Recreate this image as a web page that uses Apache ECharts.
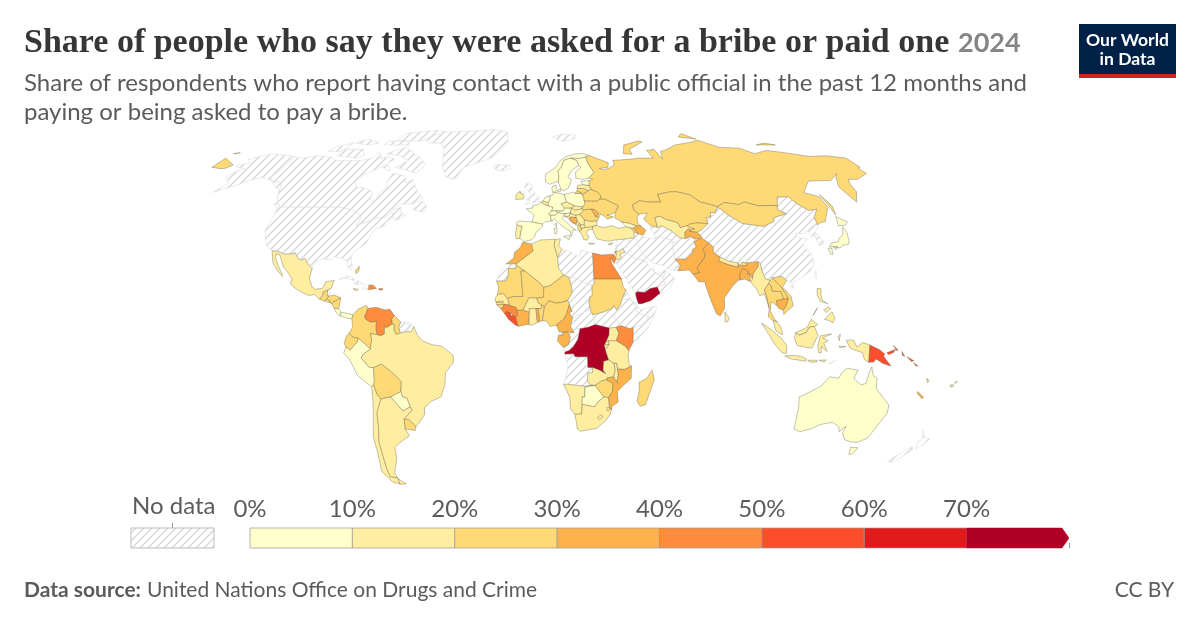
<!DOCTYPE html>
<html><head><meta charset="utf-8">
<style>html,body{margin:0;padding:0;background:#fff}#c{width:1200px;height:627px}</style>
<script src="https://cdn.jsdelivr.net/npm/echarts@6/dist/echarts.min.js"></script>
</head><body><div id="c"></div>
<script>
// ---------- chart values (share of respondents, %) ----------
const countries = ["Mexico","Guatemala","Honduras","El Salvador","Nicaragua","Costa Rica","Panama","Dominican Republic","Jamaica","Puerto Rico","Bahamas","Venezuela","Colombia","Ecuador","Peru","Bolivia","Brazil","Paraguay","Uruguay","Chile","Argentina","Guyana",
"Morocco","Algeria","Tunisia","Egypt","Sudan","Mauritania","Mali","Niger","Nigeria","Cameroon","Benin","Togo","Ghana","Ivory Coast","Liberia","Sierra Leone","Guinea","Senegal","Gambia","Guinea-Bissau","Burkina Faso","Kenya","Uganda","Rwanda","Burundi","Tanzania","DR Congo","Gabon","Zambia","Malawi","Mozambique","Zimbabwe","Botswana","Namibia","South Africa","Lesotho","Eswatini","Madagascar",
"Yemen","Jordan","Palestine","Turkey","Cyprus","Russia","Ukraine","Belarus","Moldova","Romania","Bulgaria","Greece","Albania","North Macedonia","Serbia","Montenegro","Bosnia","Croatia","Slovenia","Hungary","Slovakia","Czechia","Poland","Germany","France","Spain","Portugal","Italy","Ireland","Norway","Sweden","Finland","Denmark","Netherlands","Belgium","Switzerland","Austria","Estonia","Latvia","Lithuania","Georgia","Armenia","Azerbaijan",
"Kazakhstan","Kyrgyzstan","Uzbekistan","Tajikistan","Mongolia","Pakistan","India","Nepal","Bangladesh","Bhutan","Sri Lanka","Myanmar","Thailand","Laos","Vietnam","Cambodia","Malaysia","Indonesia","Philippines","Japan","Australia","Papua New Guinea","Solomon Islands","New Caledonia","Vanuatu","Fiji"];
const values = [14,24,23,12,22,8,9,45,14,42,21,45,25,26,7,26,15,8,26,15,16,24,
36,14,15,45,25,22,23,25,28,37,24,33,14,35,55,52,44,13,21,22,18,43,17,12,14,15,75,35,15,18,36,26,6,15,15,14,15,25,
75,14,44,18,12,25,23,24,36,22,15,18,22,15,12,15,31,14,8,17,17,14,7,4,6,5,15,6,15,4,4,3,8,5,12,5,8,7,17,21,8,21,34,
24,26,14,35,25,36,36,15,34,24,15,14,24,21,21,38,14,14,12,7,5,55,55,35,25,12];
const binEdges = [0,10,20,30,40,50,60,70,80];
const binColors = ["#ffffcc","#ffeda0","#fed976","#feb24c","#fd8d3c","#fc4e2a","#e31a1c","#b10026"];
const tickLabels = ["0%","10%","20%","30%","40%","50%","60%","70%"];

// ---------- geography: rough country outlines as lon,lat rings ----------
const shapes = {
"Canada":[[-141,69.6,-135,69,-128,70,-120,69.5,-115,68,-108,68,-100,68,-95,69,-94,72,-90,69,-85,69.5,-81.5,68.5,-85,66,-87,64.5,-93,62,-94.5,59,-92.5,57,-88,56.5,-82.5,55,-82,52.5,-80,51.3,-79,52,-79,54.5,-76.5,56.5,-78,59,-77.5,62.4,-73,62,-69.5,61,-68,58.5,-65,60,-62,57,-60,55,-56,52.5,-60,50.2,-66,50.2,-69,48,-65,49,-64.8,47,-61.5,45.8,-64,44.5,-66,44,-67,45,-69,47.3,-71,45,-75,45,-79,43.3,-83,42,-82.5,45.2,-84.5,46.5,-88.5,48,-95,49,-123,49,-127,51,-130,55,-133,59,-137,59,-141,60],[-62,66,-65,62.5,-72,64,-78,65,-73,68,-80,70,-89,71,-80,74,-72,71,-67,69],[-117,70,-105,69,-101,70,-105,73,-117,73],[-90,77,-75,77,-62,82,-72,83,-90,81],[-125,72,-118,72,-116,76,-124,74],[-95,75,-80,75,-82,77,-95,77],[-59,48,-53,47,-53,49.5,-56,51.5],[-128,50.7,-125,50,-123.5,48.5,-125,48.8],[-115,76,-105,75,-100,76,-110,78],[-85,65,-81,63.5,-80,64,-83,66]],
"United States":[[-123,49,-95,49,-88.5,48,-84.5,46.5,-82.5,45.2,-83,42,-79,43.3,-75,45,-71,45,-69,47.3,-67,45,-70,43.5,-70.5,41.7,-74,40.6,-75.5,38,-76,35.5,-78,34,-81,32,-81.3,30,-80,26.8,-80.5,25.2,-82,26.5,-83,29,-85,29.7,-89,30.3,-90,29.2,-94,29.6,-97.2,27.8,-97.3,25.9,-99.5,27.5,-101.5,29.8,-103,29,-104.5,29.7,-106.5,31.8,-108.2,31.4,-111,31.3,-114.8,32.5,-117.1,32.5,-120.5,34.5,-122.5,37.5,-124.2,40.3,-124,46.2,-124.7,48.4],[-141,69.6,-141,60,-137,59,-133,59,-130,55,-132,56,-136,58,-140,59.8,-146,60.8,-151,59.5,-154,58,-158,56.5,-163,54.8,-160,58.5,-165,60.5,-164,63,-161,64.5,-166,65,-168,65.6,-162,67,-166,68.5,-157,71,-148,70.3]],
"Greenland":[[-73,78,-68,80,-62,82,-45,82.5,-30,83.5,-20,82,-18,76,-22,72,-26,69,-33,67,-40,65,-43,60,-48,61,-52,65,-54,69,-56,73,-60,76,-68,76]],
"Iceland":[[-24,65.5,-22,64,-18,63.4,-14,64.5,-15,66,-20,66,-22,66.3]],
"Svalbard":[[11,79,17,76.8,25,78,27,80,18,80.5]],
"Mexico":[[-117.1,32.5,-114.8,32.5,-111,31.3,-108.2,31.4,-106.5,31.8,-104.5,29.7,-103,29,-101.5,29.8,-99.5,27.5,-97.3,25.9,-97.8,22.3,-96,19,-94.5,18.2,-91.5,18.6,-90.5,21,-87,21.5,-87.7,18.6,-88.3,18.4,-89.1,17.9,-91,17.2,-91,16,-92.2,14.5,-94.5,16.2,-97,15.9,-100,17,-104,19,-105.6,20.5,-105.2,22,-108,25,-109.5,26,-111,28,-113,31,-114.7,31.5,-114.5,30,-112,26.5,-110,24,-109.5,23,-112,25,-115,28,-116,30.5]],
"Guatemala":[[-92.2,14.5,-91,16,-91,17.2,-89.1,17.9,-89.2,15.9,-88.3,15.7,-89.3,14.4,-90,13.7]],
"Belize":[[-89.1,17.9,-88.3,18.4,-88.2,16.2,-89.2,15.9]],
"El Salvador":[[-90,13.7,-89.3,14.4,-87.8,13.9,-87.8,13.2]],
"Honduras":[[-88.3,15.7,-86,16,-83.2,15,-85,14,-87,13,-87.8,13.2,-87.8,13.9,-89.3,14.4]],
"Nicaragua":[[-87,13,-85,14,-83.2,15,-83.7,11,-85.7,11.1]],
"Costa Rica":[[-85.7,11.1,-83.7,11,-82.6,9.6,-83,8.2,-85,9.8]],
"Panama":[[-83,8.2,-82.6,9.6,-80,9.2,-77.4,8.7,-77.9,7.2,-80,7.4,-81,7.8]],
"Cuba":[[-85,21.9,-81,23.1,-75,20.7,-74.2,20.2,-77.7,19.9,-78.5,21.5,-82,22.3]],
"Haiti":[[-74.4,18.4,-71.7,18,-71.7,19.8,-73,19.9]],
"Dominican Republic":[[-71.7,18,-68.4,18.5,-69.8,19.7,-71.7,19.8]],
"Jamaica":[[-78.3,18.5,-76.2,18.2,-76.4,17.8,-78,17.9]],
"Puerto Rico":[[-67.2,18.6,-65.6,18.4,-65.8,17.9,-67.2,17.9]],
"Bahamas":[[-78.3,25,-77,26.8,-76.8,25,-77.8,24]],
"Colombia":[[-77.4,8.7,-75.6,10.7,-72,12.2,-71.3,11,-72.5,8,-72,7,-70,6,-67.5,6.2,-67.5,3,-67,1.2,-69.8,1.7,-69.4,-1,-70,-4.2,-72,-2.4,-75,-0.1,-77.5,0.4,-79,1.7,-77.5,4,-77.9,7.2]],
"Venezuela":[[-71.3,11,-68,11.5,-64,10.5,-62,10.7,-60,8.5,-61,7,-60.7,5.2,-62.7,4,-64,4,-64,1.5,-65.5,0.8,-67,1.2,-67.5,3,-67.5,6.2,-70,6,-72,7,-72.5,8]],
"Guyana":[[-60,8.5,-57.2,6,-58,4,-57.3,1.9,-59,1.3,-60,3,-60,5.1,-60.7,5.2,-61,7]],
"Suriname":[[-57.2,6,-54,5.9,-54,3,-55,2.3,-57.3,1.9,-58,4]],
"French Guiana":[[-54,5.9,-52,4.7,-51.6,4.2,-52.7,2.3,-54,2.3,-54,3]],
"Ecuador":[[-79,1.7,-77.5,0.4,-75,-0.1,-75.4,-1.5,-78.5,-4.5,-80.3,-3.4,-81,-2,-80,0.8]],
"Peru":[[-80.3,-3.4,-78.5,-4.5,-75.4,-1.5,-75,-0.1,-72,-2.4,-70,-4.2,-73,-6,-74,-7.5,-70.6,-11,-69,-11,-69,-16,-69.5,-17.5,-70.4,-18.3,-76,-14,-79,-8,-81.3,-5.5]],
"Bolivia":[[-69,-11,-65.4,-9.7,-60.4,-13.5,-57.5,-16.3,-58,-20,-62.7,-22,-67,-22.8,-68.5,-21,-69.5,-17.5,-69,-16]],
"Chile":[[-70.4,-18.3,-69.5,-17.5,-68.5,-21,-67,-22.8,-69.5,-28,-70,-33,-71.5,-39,-72,-48,-72,-52,-68.6,-52.5,-68.6,-55,-72,-54,-75,-50,-73.5,-42,-73.5,-37,-71.5,-30,-70.5,-24]],
"Argentina":[[-67,-22.8,-62.7,-22,-58,-27.2,-54.6,-25.6,-54,-27,-58,-30.2,-58.3,-34,-57,-36.5,-62,-39,-65,-41,-65.5,-45,-69,-50.5,-68.6,-52.5,-72,-52,-72,-48,-71.5,-39,-70,-33,-69.5,-28],[-68.6,-52.8,-65.5,-54.8,-68.6,-55]],
"Paraguay":[[-62.7,-22,-58,-20,-57.5,-22,-55.7,-22.4,-54.6,-25.6,-58,-27.2]],
"Uruguay":[[-58,-30.2,-56,-30.3,-53.3,-33,-53.9,-34.5,-58.3,-34]],
"Brazil":[[-60,5.1,-60,3,-59,1.3,-57.3,1.9,-55,2.3,-54,2.3,-52.7,2.3,-51.6,4.2,-50,1,-48,-1,-44,-2.5,-40,-3,-37,-5,-35,-6.5,-35,-9,-38.5,-13,-39,-17.5,-41,-22,-45,-23.5,-48.5,-26,-48.7,-28.5,-52,-32,-53.3,-33,-56,-30.3,-58,-30.2,-54,-27,-54.6,-25.6,-55.7,-22.4,-57.5,-22,-58,-20,-57.5,-16.3,-60.4,-13.5,-65.4,-9.7,-69,-11,-70.6,-11,-74,-7.5,-73,-6,-70,-4.2,-69.4,-1,-69.8,1.7,-67,1.2,-65.5,0.8,-64,1.5,-64,4,-62.7,4,-60.7,5.2]],
"United Kingdom":[[-5.5,50,1.3,51.2,1.5,52.8,-0.2,54,-2,56,-2,57.7,-5,58.6,-6,56.5,-3.5,54.8,-3,53.3,-5,52,-3,51.4],[-8,54.5,-6,55.2,-5.5,54.3,-6.5,54]],
"Ireland":[[-10,52,-6.2,52.2,-6,53.5,-6.5,54,-8,54.5,-8,55.3,-10,54]],
"France":[[2.5,51,4.2,50,6,49.5,8.2,49,7.5,47.6,6,46.3,7,45.9,7,44,7.5,43.8,4,43.4,3,42.5,-1.8,43.4,-1,46,-4.7,48.4,-1.6,48.7,-1.6,49.7,1,50],[8.6,42.5,9.5,43,9.4,41.4]],
"Spain":[[-1.8,43.4,3,42.5,3.2,41.8,0,39.5,-0.5,38,-2,36.7,-5.5,36,-6.3,36.7,-7.4,37.2,-7,39.5,-6.5,41.7,-8.2,42,-8.8,42.5,-9.2,43.2,-8,43.7]],
"Portugal":[[-8.8,42.5,-8.2,42,-6.5,41.7,-7,39.5,-7.4,37.2,-8.9,37,-9.4,38.7]],
"Belgium":[[2.5,51,3.4,51.4,6,50.8,6.2,49.7,6,49.5,4.2,50]],
"Netherlands":[[3.4,51.4,4.7,53,7,53.4,7,52,6,50.8]],
"Germany":[[7,53.4,8.6,53.9,8.7,55,10,54.7,14.2,53.9,14.7,52,15,51,12.2,50.3,13.8,48.7,13,47.6,7.5,47.6,8.2,49,6,49.5,6.2,49.7,6,50.8,7,52]],
"Denmark":[[8.2,55,8.2,57,10.5,57.7,10.3,56,10,54.7,8.7,55],[11,55.7,12.5,56,12.3,55,11,55]],
"Switzerland":[[6,46.3,7.5,47.6,9.6,47.5,10.4,46.9,9,45.9,7,45.9]],
"Austria":[[9.6,47.5,13,47.6,13.8,48.7,17,48.7,16.5,46.8,13.7,46.5,10.4,46.9]],
"Italy":[[7,45.9,9,45.9,10.4,46.9,13.7,46.5,12.4,44.8,16,41.8,18.5,40.2,17,40.5,16.5,39,16,38,15.6,40,12.5,41.5,10.5,43,8.8,44.4,7.5,43.8,7,44],[12.5,38,15.5,38.2,15,36.7],[8.3,41,9.7,41,9.5,39,8.5,39]],
"Poland":[[14.2,53.9,18.5,54.8,19.8,54.4,23,54.4,23.7,52.6,23.7,51.5,24,50.5,22.7,49.1,19,49.4,18.8,49.5,15,51,14.7,52]],
"Czechia":[[12.2,50.3,15,51,18.8,49.5,17,48.7,13.8,48.7]],
"Slovakia":[[17,48.7,18.8,49.5,19,49.4,22.7,49.1,22,48.4,18.7,47.8]],
"Hungary":[[16.5,46.8,17,48.7,18.7,47.8,22,48.4,22.9,48,21,46.2,18.8,45.9,16.3,46.6]],
"Slovenia":[[13.7,46.5,16.5,46.8,16.3,46.6,15.5,45.5,13.6,45.5]],
"Croatia":[[13.6,45.5,15.5,45.5,16.3,46.6,18.8,45.9,19,45,16,45.2,16,44,18.5,42.5,17,43,14.8,45]],
"Bosnia":[[16,45.2,19,45,19.3,43.5,18.5,42.5,16,44]],
"Serbia":[[19,45,18.8,45.9,21,46.2,22.7,44.2,22.4,42.3,20.5,42.2,20.3,42.8,19.3,43.5]],
"Montenegro":[[18.5,42.5,19.3,43.5,20.3,42.8,19.3,41.9]],
"Albania":[[19.3,41.9,20.3,42.8,20.5,42.2,20.9,40.9,20.9,40.3,20,39.7,19.4,40.4]],
"North Macedonia":[[20.5,42.2,22.4,42.3,23,41.3,20.9,40.9]],
"Greece":[[20,39.7,20.9,40.3,20.9,40.9,23,41.3,26.3,41.7,26,40.8,23.5,40.2,23,39,24,38,23,36.5,21.5,36.8,21,38.3],[23.6,35.5,26.3,35.2,24,35]],
"Bulgaria":[[22.4,42.3,22.7,44.2,25,43.7,28.6,43.8,28,42,26.3,41.7,23,41.3]],
"Romania":[[21,46.2,22.9,48,26.6,48.3,28.2,45.4,29.7,45.2,28.6,43.8,25,43.7,22.7,44.2]],
"Moldova":[[26.6,48.3,28,48.2,30,46.5,28.2,45.4]],
"Ukraine":[[23.7,51.5,30,51.4,31.7,52.2,34,52.2,40,49.6,38,47.1,35,46.2,33.5,46,36.5,45.3,33.5,44.4,32.5,45.4,30.7,46.4,29.7,45.2,28.2,45.4,30,46.5,28,48.2,26.6,48.3,22.9,48,22,48.4,22.7,49.1,24,50.5]],
"Belarus":[[23.7,52.6,23.7,51.5,30,51.4,31.7,52.2,32.5,53.4,30.8,55,28,56,26.5,55.5,23.5,54,23,54.4]],
"Lithuania":[[21,55.3,21,56.4,24.5,56.3,26.5,55.5,23.5,54,23,54.4]],
"Latvia":[[21,56.4,21.5,57.6,24.3,57.9,27.5,57.5,28,56,26.5,55.5,24.5,56.3]],
"Estonia":[[23.5,59.2,28,59.5,27.5,57.5,24.3,57.9]],
"Norway":[[5,59,7,58,10.5,59,11.7,59,12.2,61,12,63.5,14,65,16,68,20,69,25,68.8,29,69.5,31,70.2,28,71,24,71,18,69.8,14,68,11,65,5,62]],
"Sweden":[[11.7,59,12.7,56,14.3,55.4,16.5,56.5,18.8,59.8,17,61,20,64,24,65.8,23.5,68,20,69,16,68,14,65,12,63.5,12.2,61]],
"Finland":[[21,60.5,25,60,28,60.5,31.5,62.8,29.5,66.5,29,69.5,25,68.8,20,69,23.5,68,24,65.8,25,65,21.5,63,21.3,61]],
"Russia":[[28,60.5,31.5,62.8,29.5,66.5,29,69.5,31,70.2,41,67,40,65,35,64.5,37,64,40,64.5,44,66,44,68,54,68.5,60,69,68,69,67,72.5,72,73,73,68.5,75,72,80,73,87,75,100,76.5,105,77.5,113,74,125,73.5,130,71,140,72.5,152,71,160,69.7,170,70,180,69,180,65,178,64.5,179,62.5,170,60,165,60,163,58,162,55,157,51,155.7,57,160,61,163,62.5,155,59.5,143,59.3,135,54.7,141,53,141,49,135,43.5,132,43,130.7,42.3,131,45,135,48.3,131,47.7,127.5,50,125.6,53,120,53,117,49.6,113,49.7,108,49.5,102,51,98.5,50,92,50.8,87.8,49.2,85,50,80.5,51,77,53.8,71,55,68,55,61,54,61,51,55,51,51,51.5,47,50,47,48,49,46.3,47.5,45,47.5,42.5,48.6,41.8,46.5,41.8,43.5,42.8,40,43.4,37,45,38,47.1,40,49.6,34,52.2,31.7,52.2,32.5,53.4,30.8,55,28,56,27.5,57.5,28,59.5,30,60],[-180,65,-175,64.5,-172,64.5,-170,66,-175,67.5,-180,69],[-180,71,-177,71.5,-178,70.9],[52,71,57,70.7,57,73,68,76.5,66,77,55,75],[19.8,54.4,23,54.4,21,55.3,20,54.9],[142,54,143.5,49.5,142,46,142,50],[95,79,105,78,100,81],[138,75,150,75,145,76]],
"Kazakhstan":[[47,50,51,51.5,55,51,61,51,61,54,68,55,71,55,77,53.8,80.5,51,85,50,87.8,49.2,85.5,47,83,47,82.5,45.3,80,45,80,42.8,74.5,43,71,42.5,70,42,66.5,41.2,66,43,64.5,43.5,61,44.3,58.5,45.5,56,45,56,41.3,53,42,50.5,44.5,53,46.8,49,46.3,47,48]],
"Uzbekistan":[[56,45,58.5,45.5,61,44.3,64.5,43.5,66,43,66.5,41.2,70,42,71,41.2,73,40.8,71,40.2,70,40.8,68,39.5,67.5,37.2,65,37.5,62,40,58,42,56,41.3]],
"Turkmenistan":[[53,42,56,41.3,58,42,62,40,65,37.5,64,36,61,35.5,61,36.5,56,38,54,37.3,53.8,39,52.8,40]],
"Kyrgyzstan":[[70,42,71,42.5,74.5,43,80,42.8,76,40.4,73.7,39.5,70,39.8,71,40.2,73,40.8,71,41.2]],
"Tajikistan":[[68,39.5,70,40.8,71,40.2,70,39.8,73.7,39.5,75,38,74.9,37.3,71.5,37,70,38,68,37.2,67.5,37.2]],
"Afghanistan":[[61,35.5,64,36,65,37.5,67.5,37.2,68,37.2,70,38,71.5,37,74.9,37.3,71,36,71.5,34,69.5,33,69.3,31.8,66.5,30,66,29.4,61,29.5,60.8,31.5]],
"Pakistan":[[61,29.5,66,29.4,66.5,30,69.3,31.8,69.5,33,71.5,34,71,36,74.9,37.3,77.5,35.5,74,33,75,31.8,74,30,72,28,70,26,71,24.5,68,23.7,66.5,25.4,61.6,25.1,63,27.2]],
"India":[[77.5,35.5,79,34,78.5,32,81,30.2,80,28.8,84,27.4,88,26.5,88.2,28,89,27,92,27,92,28,97,28.5,97,27,94,24,93.3,22,92.4,24,91.5,24,92,25,89.8,26,88.3,24,88,21.7,87,21.5,84,19,80.3,15,80,11,78,8.2,76.5,9,74.5,14,73,19,72.6,21,70,21,69,22.5,68,23.7,71,24.5,70,26,72,28,74,30,75,31.8,74,33]],
"Nepal":[[80,28.8,81,30.2,84,28.8,88.2,28,88,26.5,84,27.4]],
"Bhutan":[[89,27,92,27,92,28,90,28.3]],
"Bangladesh":[[88.3,24,89.8,26,92,25,91.5,24,92.4,24,92.3,21,90,22,88,21.7]],
"Sri Lanka":[[80,9.7,81.8,7.5,81,6,80,6.2]],
"Iran":[[44.8,39.7,48,38.5,49,37.5,54,36.9,54,37.3,56,38,61,36.5,61,35.5,60.8,31.5,61,29.5,63,27.2,61.6,25.1,57.5,25.7,56,27,51,28,48.5,30,47.7,31,46,33.5,45.5,36,44.5,37.5]],
"Azerbaijan":[[46.5,41.8,48.6,41.8,50.3,40.3,48.9,38.5,46.5,38.9,46,39.5,45,41.2]],
"Armenia":[[43.6,41.1,45,41.2,46,39.5,46.5,38.9,44.8,39.7]],
"Georgia":[[40,43.4,43.5,42.8,46.5,41.8,45,41.2,43.6,41.1,41.6,41.5]],
"Turkey":[[26.3,41.7,28,42,31.5,41.2,35,42,38,41,41.6,41.5,43.6,41.1,44.8,39.7,44.5,37.5,42.3,37.2,38,36.8,36.1,36.6,35.5,36.6,32.5,36.1,30.5,36.4,27.5,37,26.3,39.3,26,40.8]],
"Cyprus":[[32.3,35,34.5,35.6,33.5,34.7]],
"Syria":[[36.1,36.6,38,36.8,42.3,37.2,41,34.5,38.8,33.4,36.8,32.4,35.9,33,36,34.6]],
"Lebanon":[[35.1,33.1,35.9,33,36.5,34.4,36,34.6]],
"Israel":[[35.1,33.1,35.9,33,35.5,32.4,34.9,32,35.5,31.4,35,29.5,34.3,31.3]],
"Palestine":[[35.5,32.6,34.9,32,35.5,31.2,35.7,31.5]],
"Jordan":[[35.5,32.4,36.8,32.4,38.8,33.4,39.3,32,37,31.3,37.5,30,36,29.2,35,29.5,35.5,31.4]],
"Iraq":[[42.3,37.2,44.5,37.5,45.5,36,46,33.5,47.7,31,48.5,30,47.7,29.4,46.5,29.1,44.7,29.2,39.3,32,38.8,33.4,41,34.5]],
"Saudi Arabia":[[36,29.2,37.5,30,37,31.3,39.3,32,44.7,29.2,46.5,29.1,48,28.5,50,26,51.3,24.4,55,22.7,55.5,20,52,19,49,18.5,46.5,17,43.3,17.3,42.5,16.5,41,19,39,21.5,37,25,35,28]],
"Yemen":[[43.3,17.3,46.5,17,49,18.5,52,19,53,16.7,49,14,45,12.8,43.5,12.8,42.8,15,42.5,16.5]],
"Oman":[[52,19,55.5,20,55,22.7,56.3,24.9,58.7,23.5,59.8,22.4,57.8,19,55,17,53,16.7]],
"UAE":[[51.3,24.4,54,24.2,56.3,25.8,56.3,24.9,55,22.7]],
"Qatar":[[50.8,24.8,51.6,25,51.2,26.2]],
"Kuwait":[[46.5,29.1,47.7,29.4,48.4,28.5,48,28.5]],
"China":[[73.7,39.5,76,40.4,80,42.8,80,45,82.5,45.3,83,47,85.5,47,87.8,49.2,91,46,96,42.8,105,41.7,111,43.5,112,45,119,46.5,116,48,117,49.6,120,53,125.6,53,127.5,50,131,47.7,135,48.3,131,45,130.7,42.3,128,42,124.4,40,121.5,39,118,39,119,37.3,122.5,37,119.3,35,121.8,31,121.5,28,119,25,114,22.3,110,20.5,108,21.6,106,23,102,22.5,101,21.5,99,22,98,25,98,28,97,28.5,92,28,90,28.3,88.2,28,84,28.8,81,30.2,78.5,32,79,34,77.5,35.5,74.9,37.3,75,38],[108.7,19.5,110.5,20,110,18.4]],
"Taiwan":[[120.2,23,121.5,25.2,121,22]],
"Mongolia":[[87.8,49.2,92,50.8,98.5,50,102,51,108,49.5,113,49.7,117,49.6,116,48,119,46.5,112,45,111,43.5,105,41.7,96,42.8,91,46]],
"North Korea":[[124.4,40,128,42,130.7,42.3,129.5,41,127.5,39.5,128.3,38.6,126.7,38,125,38]],
"South Korea":[[126.7,38,128.3,38.6,129.4,36,128.5,34.9,126.4,34.6]],
"Japan":[[130.9,34,132.5,35.5,136,36,137,37.3,139.5,38.5,141.5,41.4,142,39.5,140.8,36,139.8,35,137,34.6,135.5,33.6,132.5,34.2],[140,42,141.5,45.4,145.3,43.4,143,42],[130,33.5,131.7,33.5,131,31.2,130.2,31.3],[132.5,33.8,134.6,34.2,133.5,33]],
"Myanmar":[[92.3,21,93.3,22,94,24,97,27,97,28.5,98,28,98,25,99,22,101,21.5,100,20.3,97.8,18,98.5,15,99,11,98.5,13,97.5,16.5,95.5,15.8,94.3,18.5]],
"Thailand":[[97.8,18,100,20.3,101,19.5,101,17.5,104.8,17.4,105.5,14.5,102.5,14,102.5,12,101,13,100,13.5,99.3,10,101,7,102,6,100.3,6.5,98.3,8,99,11,98.5,15]],
"Laos":[[100,20.3,101,21.5,102,22.5,104.8,19.5,106.7,16.5,107.5,14.7,105.5,14.5,104.8,17.4,101,17.5,101,19.5]],
"Vietnam":[[102,22.5,106,23,108,21.6,105.7,19,108.8,15.5,109.3,12,106.8,10.3,105,8.7,104.9,10.4,106,11.7,107.5,14.7,106.7,16.5,104.8,19.5]],
"Cambodia":[[102.5,14,105.5,14.5,107.5,14.7,106,11.7,104.9,10.4,103,11,102.5,12]],
"Malaysia":[[100.3,6.5,102,6,103.4,4,104.2,1.4,103.4,1.4,101.3,2.8],[109.6,2,111.3,2.6,114.5,4,116.5,7,119,5,117.7,4.2,115.6,4.2,114,2,111,1]],
"Indonesia":[[109.6,2,111,1,114,2,115.6,4.2,117.7,4.2,119,1,116.5,-3.8,114,-3.5,110.3,-2.8,109,0],[95.3,5.6,98,4,103.5,0,106,-3,105.8,-5.8,104,-5.5,101,-2.5,98.5,1],[105.2,-6.7,108.5,-6.5,112,-6.8,114.5,-7.8,114.3,-8.7,108,-7.8],[119.5,-5.5,119,-3,120,0.8,124.8,1.5,121,0,123.3,-1,121.5,-2,123,-5,121.5,-4,120.5,-3,120.5,-5.6],[131,-0.8,134,-0.8,135.5,-3.3,138,-1.7,141,-2.6,141,-9.1,139,-8,138,-5.5,133,-4,132,-2.8],[115,-8.3,119,-8.3,119,-9,116,-9],[119.8,-8.3,123,-8.2,122,-9],[127.5,0.5,128.5,1.5,128,-1],[128,-3,130.8,-3.2,128.3,-3.6]],
"Timor-Leste":[[124,-9.5,127,-8.4,125,-9.4]],
"Philippines":[[120.5,18.5,122.2,18.4,121.6,16,122,14,124,12.8,121,13.7,120,16],[122,7,125.5,9.8,126.5,7.5,125.5,5.7,124,6.5],[122,10.5,124,11.5,125,11,123,9.5],[117.2,8.4,119.5,11.3,118,9.2]],
"Papua New Guinea":[[141,-2.6,145,-4.3,147.5,-6,147,-6.7,150.5,-10.5,147,-9.5,144,-7.8,143,-9,141,-9.1],[148.3,-5.5,152,-4.2,151,-5.5,149,-6.2],[150.8,-2.7,153,-4.5,152.5,-4.7],[154.6,-5,156,-6.8,155,-6.5]],
"Solomon Islands":[[157,-7,160,-8.5,159,-8.8],[160,-9.2,162,-10.5,161,-10.4]],
"New Caledonia":[[164,-20,167.2,-22.2,166.5,-22.6,164,-20.6]],
"Vanuatu":[[166.6,-15,167.8,-16,167.2,-16.6]],
"Fiji":[[177.3,-17.5,178.7,-17.5,178.5,-18.2,177.3,-18.2],[179,-16.5,180,-16.2,179,-17]],
"Australia":[[113.5,-22,114.2,-26,115,-34,118,-35,123,-33.8,126,-32.3,131,-31.5,134.5,-33,135.7,-35,137.8,-33,137.5,-35.5,140,-38,143.5,-38.8,146.3,-39,150,-37.4,151,-34,153.6,-28,153,-25,149.5,-22,146,-19,145.3,-15,143.5,-14,142.5,-10.8,141.7,-13,141,-17,139,-17.5,135.5,-15,136.8,-12,132,-11.3,130,-13,129,-15,125,-14.5,122,-18,117,-20.5],[144.7,-40.8,148.3,-41,147.5,-43.3,146,-43.5]],
"New Zealand":[[172.8,-34.5,175.5,-37,178.5,-37.7,176.8,-40,175.2,-41.5,174,-39.3,175,-37.5],[172.7,-40.6,174.3,-41.7,171,-45,169,-46.6,166.5,-46,170,-43]],
"Madagascar":[[49.3,-12,50.5,-15.5,47.5,-24.8,45.2,-25.5,43.7,-23.5,44.4,-19.5,44,-16.5,47.3,-15]],
"Morocco":[[-5.9,35.8,-2,35.1,-1.3,32.5,-5,30,-8.7,27.7,-13,27.7,-9.8,29.8,-9.5,32,-7,33.8]],
"Western Sahara":[[-13,27.7,-8.7,27.7,-8.7,26,-12,26,-12,23.4,-13,21.3,-17,21.3,-16,24,-14.5,26.2]],
"Mauritania":[[-17,21.3,-13,21.3,-12,23.4,-12,26,-8.7,26,-8.7,27.3,-4.8,25,-6.5,25,-5.6,15.5,-9.3,15.5,-12.2,14.8,-14,16.6,-16.5,16.2,-16,19]],
"Algeria":[[-2,35.1,2,36.6,8.6,36.9,8.2,34.5,9.5,30.2,9.8,26,12,23.5,6,19.5,3.3,19,1,21,-4.8,25,-8.7,27.3,-8.7,27.7,-5,30,-1.3,32.5]],
"Tunisia":[[8.6,36.9,11,37,10.2,34.5,11.5,33,9.5,30.2,8.2,34.5]],
"Libya":[[11.5,33,15,32.3,19,30.3,20,32.8,25,31.7,25,20,24,19.5,15,23,14.2,22.6,12,23.5,9.8,26,9.5,30.2]],
"Egypt":[[25,31.7,29,31,34.3,31.3,35,29.5,34.2,27.8,32.7,30,33,28,36.9,22,25,22]],
"Sudan":[[24,19.5,25,20,25,22,36.9,22,37.4,19,38.5,18,36.5,14.3,36,12.7,34.2,10.5,33,12.2,32.4,11,28,9.5,24,8.7,23,10.8,22.5,13.5,23,15.5,24,15.7]],
"South Sudan":[[24,8.7,28,9.5,32.4,11,33,12.2,34.2,10.5,33,7.9,35.9,4.6,33.9,4,31,3.7,28,4.4,25,5]],
"Chad":[[14.2,22.6,15,23,24,19.5,24,15.7,23,15.5,22.5,13.5,23,10.8,19,9,15.5,7.5,14,9.5,15.3,10,14.2,12.5,13.5,14,15.5,16.9,15,20]],
"Niger":[[3.3,19,6,19.5,12,23.5,14.2,22.6,15,20,15.5,16.9,13.5,14,10.7,13.3,8.5,13,5.5,13.9,3.6,11.7,2.4,12.3,1,13,0.2,14.9,3.2,15.3]],
"Mali":[[-12.2,14.8,-9.3,15.5,-5.6,15.5,-6.5,25,-4.8,25,1,21,3.3,19,3.2,15.3,0.2,14.9,-3,15,-5.5,10.4,-8,10.3,-8.5,11.4,-11.4,12.2]],
"Senegal":[[-16.5,16.2,-14,16.6,-12.2,14.8,-11.4,12.4,-13.7,12.6,-16.7,12.4,-17.5,14.7]],
"Gambia":[[-16.8,13.6,-14,13.8,-14,13.2,-16.8,13.2]],
"Guinea-Bissau":[[-16.7,12.4,-13.7,12.6,-13.7,11.7,-15,11]],
"Guinea":[[-13.7,12.6,-11.4,12.2,-8.5,11.4,-8,10.3,-7.8,8.5,-8.5,7.6,-9.5,8.5,-10.7,9.3,-12.5,9.9,-13.2,9,-15,11,-13.7,11.7]],
"Sierra Leone":[[-13.2,9,-12.5,9.9,-10.7,9.3,-10.7,8.3,-11.5,6.9]],
"Liberia":[[-11.5,6.9,-10.7,8.3,-9.5,8.5,-8.5,7.6,-7.5,4.4,-9,5]],
"Ivory Coast":[[-8.5,7.6,-7.8,8.5,-8,10.3,-5.5,10.4,-2.8,9.7,-3,5.1,-7.5,4.4]],
"Burkina Faso":[[-5.5,10.4,-3,15,0.2,14.9,1,13,2.4,12.3,2.2,11,-2.8,11,-2.8,9.7]],
"Ghana":[[-2.8,9.7,-2.8,11,0,11,0.5,6.2,1.2,6,-2,4.7,-3,5.1]],
"Togo":[[0,11,0.9,11,1.6,6.2,1.2,6,0.5,6.2]],
"Benin":[[0.9,11,2.2,11,2.4,12.3,3.6,11.7,2.7,6.4,1.6,6.2]],
"Nigeria":[[2.7,6.4,3.6,11.7,5.5,13.9,8.5,13,10.7,13.3,13.5,14,14.2,12.5,13,9,11.7,7,8.6,4.8,6,4.3,4.5,6.3]],
"Cameroon":[[8.6,4.8,11.7,7,13,9,14.2,12.5,15.3,10,14,9.5,15.5,7.5,14.5,4.5,16,2,13.3,2.2,9.8,2.3]],
"Central African Republic":[[15.5,7.5,19,9,23,10.8,24,8.7,25,5,22,4,18.6,3.5,16.5,3.5,16,2,14.5,4.5]],
"Equatorial Guinea":[[9.8,2.3,11.3,2.2,11.3,1,9.5,1]],
"Gabon":[[9.5,1,11.3,1,11.3,2.2,13.3,2.2,14.5,0.5,13.7,-2.5,11.5,-3.5,9,-1]],
"Congo":[[13.3,2.2,16,2,16.5,3.5,18.6,3.5,17.7,-0.5,15.8,-3.2,14,-4.7,12.2,-4.8,11.5,-3.5,13.7,-2.5,14.5,0.5]],
"DR Congo":[[18.6,3.5,22,4,25,5,28,4.4,31,3.7,30.8,1,29.6,-1.4,28.9,-2.6,29.3,-4.4,30.8,-8.2,28.7,-8.7,28.5,-12,29.8,-13.4,27,-12,24,-11,22,-11,21.8,-7,16.5,-7,16,-5.9,12.2,-6,12.2,-5.2,14,-4.7,15.8,-3.2,17.7,-0.5]],
"Angola":[[12.2,-6,16,-5.9,16.5,-7,21.8,-7,22,-11,24,-11,24,-13,22,-13,22,-16.2,23.4,-17.6,21,-18,13.5,-17.3,11.8,-17.3,13.5,-12,13,-9]],
"Zambia":[[24,-11,27,-12,29.8,-13.4,28.5,-12,28.7,-8.7,30.8,-8.2,33,-9.4,33.7,-12,33,-14.5,30.3,-14.9,30.3,-15.6,28,-16,25.3,-17.7,23.4,-17.6,22,-16.2,22,-13,24,-13]],
"Namibia":[[11.8,-17.3,13.5,-17.3,21,-18,23.4,-17.6,25.3,-17.7,21,-18.3,21,-22,20,-22,20,-28.4,17,-28.5,15,-26.5,14.5,-22]],
"Botswana":[[21,-18.3,25.3,-17.7,29.3,-22,27,-23.7,25.5,-25.7,23,-25.3,20,-24.8,20,-22,21,-22]],
"Zimbabwe":[[25.3,-17.7,28,-16,30.3,-15.6,33,-17,32.8,-20,31.3,-22.3,29.3,-22]],
"South Africa":[[17,-28.5,20,-28.4,20,-24.8,23,-25.3,25.5,-25.7,27,-23.7,29.3,-22,31.3,-22.3,32,-25.9,32.9,-26.8,32.5,-28.5,30.5,-31,27,-33.8,25,-34,20,-34.8,18.4,-34,18,-32]],
"Lesotho":[[27,-29.7,28.5,-28.6,29.4,-29.5,28,-30.6]],
"Eswatini":[[30.8,-26,32,-25.9,32,-27,31,-27.2]],
"Mozambique":[[32.9,-26.8,32,-25.9,31.3,-22.3,32.8,-20,33,-17,30.3,-15.6,30.3,-14.9,33,-14.5,34.5,-16,35,-14,34.6,-11.5,37.5,-11.7,40.5,-10.5,40.6,-15,37,-18,35,-20,35.5,-24,33,-25.5]],
"Malawi":[[33,-9.4,34.3,-9.5,34.6,-11.5,35,-14,34.5,-16,35,-17,33,-14.5,33.7,-12]],
"Tanzania":[[33.9,-1,37.7,-3,39.2,-4.7,39,-7,39.5,-10,40.5,-10.5,37.5,-11.7,34.6,-11.5,34.3,-9.5,33,-9.4,30.8,-8.2,29.3,-4.4,30.8,-2.4,30.5,-1]],
"Rwanda":[[29.6,-1.4,30.5,-1,30.8,-2.4,28.9,-2.6]],
"Burundi":[[28.9,-2.6,30.8,-2.4,29.3,-4.4]],
"Uganda":[[31,3.7,33.9,4,35,1.7,33.9,-1,30.5,-1,29.6,-1.4,30.8,1]],
"Kenya":[[33.9,4,35.9,4.6,39.5,3.5,41,3.9,41,-1.6,39.2,-4.7,37.7,-3,33.9,-1,35,1.7]],
"Eritrea":[[38.5,18,39.5,15.5,43,12.5,41.5,13,40,14.5,36.5,14.3]],
"Ethiopia":[[36.5,14.3,40,14.5,41.5,13,42.5,11,43,9.5,44,9,47.9,8,45,5,42,4,41,3.9,39.5,3.5,35.9,4.6,33,7.9,34.2,10.5,36,12.7]],
"Djibouti":[[41.5,13,43,12.5,43.2,11.5,42.5,11]],
"Somalia":[[42.5,11,43.2,11.5,44.5,10.5,51,12,51,10.4,47.5,4,43,-0.5,41,-1.6,41,3.9,42,4,45,5,47.9,8,44,9,43,9.5]]
};

// ---------- Robinson projection ----------
const PLEN=[1,.9986,.9954,.99,.9822,.973,.96,.9427,.9216,.8962,.8679,.835,.7986,.7597,.7186,.6732,.6213,.5722,.5322];
const PDFE=[0,.062,.124,.186,.248,.31,.372,.434,.4958,.5571,.6176,.6769,.7346,.7903,.8435,.8936,.9394,.9761,1];
const DEG_PX=2.37, LAT_PX=216, CX=536, CY=338;
function tab(t,a){const f=Math.min(Math.abs(a),89.999)/5,i=Math.floor(f);return t[i]+(t[i+1]-t[i])*(f-i);}
const robinson={
 project(p){return [p[0]*DEG_PX*tab(PLEN,p[1]),-Math.sign(p[1])*LAT_PX*tab(PDFE,p[1])];},
 unproject(q){let lo=0,hi=90;const v=Math.abs(q[1])/LAT_PX;for(let k=0;k<30;k++){const m=(lo+hi)/2;if(tab(PDFE,m)<v)lo=m;else hi=m;}const lat=lo*(q[1]>0?-1:1);return [q[0]/(DEG_PX*tab(PLEN,lat)),lat];}
};
const valueOf=Object.fromEntries(countries.map((c,i)=>[c,values[i]]));
const names=Object.keys(shapes).sort((a,b)=>(a in valueOf)-(b in valueOf));
let bx0=1e9,bx1=-1e9,by0=1e9,by1=-1e9;
const features=names.map(n=>({type:'Feature',properties:{name:n},geometry:{type:'MultiPolygon',coordinates:shapes[n].map(r=>{
  const ring=[];for(let i=0;i<r.length;i+=2){ring.push([r[i],r[i+1]]);const q=robinson.project([r[i],r[i+1]]);bx0=Math.min(bx0,q[0]);bx1=Math.max(bx1,q[0]);by0=Math.min(by0,q[1]);by1=Math.max(by1,q[1]);}
  ring.push(ring[0]);return [ring];})}}));
echarts.registerMap('world',{type:'FeatureCollection',features});

function hatch(){const s=8,c=document.createElement('canvas');c.width=s;c.height=s;const g=c.getContext('2d');g.fillStyle='#fff';g.fillRect(0,0,s,s);g.strokeStyle='#d9d9d9';g.lineWidth=1.5;
 [[-s,s,s,-s],[0,s,s,0],[0,2*s,2*s,0]].forEach(l=>{g.beginPath();g.moveTo(l[0],l[1]);g.lineTo(l[2],l[3]);g.stroke();});return c;}
const hatchFill={image:hatch(),repeat:'repeat'};

const FONT='Lato';
const chart=echarts.init(document.getElementById('c'),null,{renderer:'canvas',width:1200,height:627});
const text=(t,pos,top,size,color,weight,family)=>Object.assign({text:t,top,textStyle:{fontSize:size,color,fontWeight:weight||'normal',fontFamily:family||FONT}},pos);
chart.setOption({
 animation:false,backgroundColor:'#fff',
 title:[
  text('Share of people who say they were asked for a bribe or paid one',{left:19},21,34,'#363636','bold','Liberation Serif'),
  text('2024',{left:953},25,27,'#858585','bold'),
  text('Share of respondents who report having contact with a public official in the past 12 months and',{left:19},66,24,'#5b5b5b'),
  text('paying or being asked to pay a bribe.',{left:19},95,24,'#5b5b5b'),
  text('No data',{left:127},489,24,'#5b5b5b'),
  text('Data source:',{left:19},575,21,'#5b5b5b','bold'),
  text('United Nations Office on Drugs and Crime',{left:142},575,21,'#5b5b5b'),
  text('CC BY',{right:21},575,21,'#5b5b5b')
 ],
 visualMap:{show:false,type:'piecewise',seriesIndex:0,pieces:binColors.map((c,i)=>({min:binEdges[i],max:binEdges[i+1],color:c}))},
 grid:{left:250,top:528,width:819,height:20,containLabel:false},
 xAxis:{type:'value',min:0,max:80,interval:10,position:'top',splitLine:{show:false},axisLine:{show:false},
  axisTick:{show:true,length:5,lineStyle:{color:'#999',width:1}},
  axisLabel:{margin:7,fontSize:24,color:'#5b5b5b',fontFamily:FONT,formatter:(v)=>tickLabels[v/10]||''}},
 yAxis:{type:'value',min:0,max:1,show:false},
 series:[
  {type:'map',map:'world',projection:robinson,left:CX+bx0,top:CY+by0,width:bx1-bx0,height:by1-by0,roam:false,silent:true,selectedMode:false,
   label:{show:false},emphasis:{disabled:true},
   itemStyle:{areaColor:hatchFill,borderColor:'#dedede',borderWidth:0.6},
   data:countries.map((c,i)=>({name:c,value:values[i],itemStyle:{borderColor:'rgba(90,90,70,.6)',borderWidth:0.6}}))},
  {type:'custom',xAxisIndex:0,yAxisIndex:0,silent:true,
   data:binColors.map((c,i)=>[binEdges[i],binEdges[i+1],i]),
   renderItem(params,api){
     const a=api.value(0),b=api.value(1),i=api.value(2),last=i===binColors.length-1;
     const tl=api.coord([a,1]),br=api.coord([b,0]),h=br[1]-tl[1];
     const pts=last?[tl,[br[0]-7,tl[1]],[br[0],tl[1]+h/2],[br[0]-7,br[1]],[tl[0],br[1]]]:[tl,[br[0],tl[1]],br,[tl[0],br[1]]];
     return {type:'polygon',shape:{points:pts},style:{fill:binColors[i],stroke:last?binColors[i]:'#999',lineWidth:last?0.5:0.7}};
   }}
 ],
 graphic:[
  {type:'rect',shape:{x:131,y:528,width:83,height:20},style:{fill:hatchFill,stroke:'#bbb',lineWidth:1},silent:true},
  {type:'line',shape:{x1:172.5,y1:523,x2:172.5,y2:528},style:{stroke:'#999',lineWidth:1},silent:true},
  {type:'rect',shape:{x:1079,y:24,width:97,height:54},style:{fill:'#002147'},silent:true},
  {type:'rect',shape:{x:1079,y:74,width:97,height:4},style:{fill:'#ce261e'},silent:true},
  {type:'text',x:1127.5,y:31,style:{text:'Our World\nin Data',fill:'#fff',fontSize:17.5,fontWeight:'bold',fontFamily:FONT,align:'center',lineHeight:19},silent:true}
 ]
});
</script></body></html>
